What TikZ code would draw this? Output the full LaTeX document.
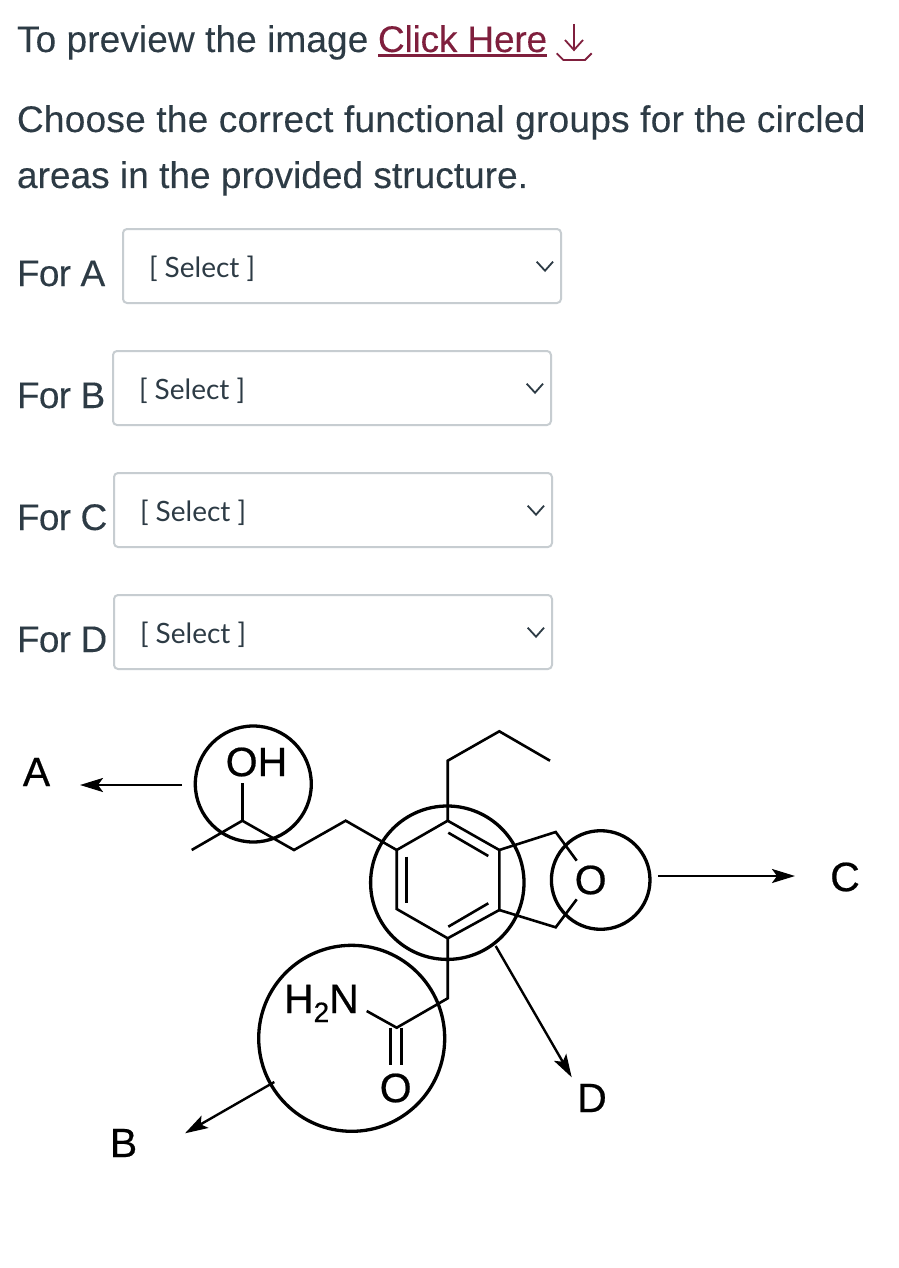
\documentclass[tikz,border=0pt]{standalone}
\usepackage{fontspec}
\setmainfont{Liberation Sans}[FakeBold=0.15]
\newfontfamily\chemfont{Liberation Sans}[FakeBold=0.5]
\newfontfamily\selfont{Lato}
\usetikzlibrary{arrows.meta}
\definecolor{ink}{HTML}{2D3B45}
\definecolor{linkred}{HTML}{7F1F3D}
\definecolor{boxgrey}{HTML}{C7CDD1}
\tikzset{
  x=1pt,y=-1pt,
  body/.style={anchor=base west,inner sep=0pt,outer sep=0pt,text=ink,font=\fontsize{37}{37}\selectfont},
  seltext/.style={anchor=base west,inner sep=0pt,outer sep=0pt,text=ink,font=\selfont\fontsize{28}{28}\selectfont},
  selbox/.style={draw=boxgrey,line width=2pt,rounded corners=4pt},
  chev/.style={draw=ink,line width=1.8pt},
  bond/.style={draw=black,line width=2.6pt,line join=miter},
  ringcirc/.style={circle,draw=black,line width=3.3pt,inner sep=0pt,outer sep=0pt},
  atom/.style={inner sep=0pt,outer sep=0pt,font=\chemfont\fontsize{41}{41}\selectfont,text=black},
  callout/.style={draw=black,line width=2.4pt,-{Stealth[length=23pt,width=14pt,inset=5pt]}},
}
\begin{document}
\begin{tikzpicture}
\useasboundingbox (0,0) rectangle (898,1268);
\fill[white] (0,0) rectangle (898,1268);
% header text
\node[body] (t1) at (17,52) {\addfontfeature{LetterSpace=0.3}To preview the image};
\node[body,text=linkred] (link) at (378,52) {\addfontfeature{LetterSpace=-0.5}Click Here};
\coordinate (ulL) at (378,55.7); \coordinate (ulR) at (546.7,55.7);
\draw[linkred,line width=2.6pt] (ulL) -- (ulR);
\coordinate (ia1) at (574,24); \coordinate (ia2) at (574,50);
\coordinate (ih1) at (565,40); \coordinate (ih2) at (583,40);
\draw[linkred,line width=1.8pt] (ia1) -- (ia2);
\draw[linkred,line width=1.8pt] (ih1) -- (ia2) -- (ih2);
\coordinate (tr1) at (556.7,53.3); \coordinate (tr2) at (563.3,60);
\coordinate (tr3) at (585,60); \coordinate (tr4) at (591.7,53.3);
\draw[linkred,line width=1.8pt] (tr1) -- (tr2) -- (tr3) -- (tr4);
\node[body] (q1) at (17,132) {\addfontfeature{LetterSpace=0.7}Choose the correct functional groups for the circled};
\node[body] (q2) at (17,188) {\addfontfeature{LetterSpace=0.1}areas in the provided structure.};
% form rows
\foreach \nm/\lab/\bx/\by in {A/For A/123/229,B/For B/113/351,C/For C/114/473,D/For D/114/595}{
  \node[body] (lab\nm) at (17,\by+57) {\addfontfeature{LetterSpace=-2}\lab};
  \draw[selbox] (\bx,\by) rectangle (\bx+438,\by+74);
  \node[seltext] (sel\nm) at (\bx+26,\by+48) {[ Select ]};
  \draw[chev] (\bx+413.7,\by+32.7) -- (\bx+422,\by+41.7) -- (\bx+430,\by+32.7);
}
% skeleton
\coordinate (me) at (191.7,850);
\coordinate (ch) at (242.3,820.7);
\coordinate (ohb) at (242.3,783);
\coordinate (c2) at (294,850);
\coordinate (c3) at (345.7,820.7);
\coordinate (r6) at (396.7,850);
\coordinate (r1) at (447.7,820.7);
\coordinate (r2) at (499.3,850);
\coordinate (r3) at (499.3,910);
\coordinate (r4) at (447.7,938.3);
\coordinate (r5) at (396.7,909);
\coordinate (p1) at (447.7,760.7);
\coordinate (p2) at (499.3,731.3);
\coordinate (p3) at (550,760.7);
\coordinate (d1a) at (448.3,832.7); \coordinate (d1b) at (488.3,856);
\coordinate (d2a) at (406.7,856.7); \coordinate (d2b) at (406.7,902.7);
\coordinate (d3a) at (448.3,926.7); \coordinate (d3b) at (488.3,903.3);
\coordinate (f1) at (555.7,832); \coordinate (f1o) at (576.7,860.7);
\coordinate (f2) at (555.7,927.3); \coordinate (f2o) at (576.7,899.3);
\coordinate (am1) at (447.7,998.3);
\coordinate (am2) at (396.7,1027.7);
\coordinate (amn) at (366.7,1011);
\coordinate (co1a) at (390.7,1027.7); \coordinate (co1b) at (390.7,1065);
\coordinate (co2a) at (401.7,1027.7); \coordinate (co2b) at (401.7,1065);
\draw[bond] (me) -- (ch) -- (c2) -- (c3) -- (r6);
\draw[bond] (r6) -- (r1) -- (r2) -- (r3) -- (r4) -- (r5) -- cycle;
\draw[bond] (ch) -- (ohb);
\draw[bond] (r1) -- (p1) -- (p2) -- (p3);
\draw[bond] (d1a) -- (d1b);
\draw[bond] (d2a) -- (d2b);
\draw[bond] (d3a) -- (d3b);
\draw[bond] (r2) -- (f1) -- (f1o);
\draw[bond] (r3) -- (f2) -- (f2o);
\draw[bond] (r4) -- (am1) -- (am2) -- (amn);
\draw[bond] (co1a) -- (co1b);
\draw[bond] (co2a) -- (co2b);
% atoms
\node[atom] (oh) at (256.5,762) {OH};
\node[atom] (ofur) at (590.7,880) {O};
\node[atom] (oco) at (395.7,1088) {O};
\node[atom,anchor=base west] (nh2) at (284,1013) {H\raisebox{-0.22em}{\fontsize{28}{28}\selectfont 2}N};
% circles
\node[ringcirc,minimum size=116pt] (cA) at (253.3,784) {};
\node[ringcirc,minimum size=153.4pt] (cD) at (447.3,882.7) {};
\node[ringcirc,minimum size=98.6pt] (cC) at (600.7,880) {};
\node[ringcirc,minimum size=186pt] (cB) at (351.7,1038.3) {};
% labels and callouts
\node[atom] (lA) at (36.5,772) {A};
\node[atom] (lB) at (123.5,1143) {B};
\node[atom] (lC) at (845,877) {C};
\node[atom] (lD) at (592,1098) {D};
\coordinate (aA) at (182,785); \coordinate (tA) at (80,785);
\coordinate (aC) at (658,876); \coordinate (tC) at (795,876);
\coordinate (aB) at (274.3,1082); \coordinate (tB) at (185,1133.3);
\coordinate (aD) at (495.7,946); \coordinate (tD) at (571.7,1077.3);
\draw[callout] (aA) -- (tA);
\draw[callout] (aC) -- (tC);
\draw[callout] (aB) -- (tB);
\draw[callout] (aD) -- (tD);
\end{tikzpicture}
\end{document}
